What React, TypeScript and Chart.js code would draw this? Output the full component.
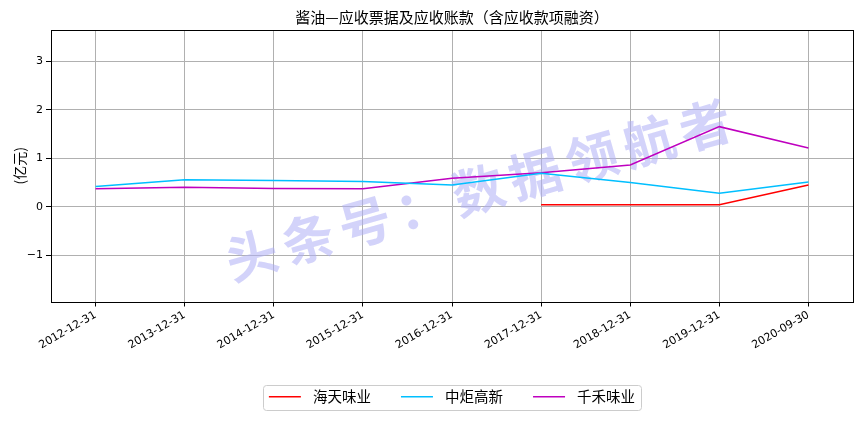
import React, { useEffect, useRef } from "react";
import { Chart, registerables } from "chart.js";

Chart.register(...registerables);

const TITLE = "酱油—应收票据及应收账款（含应收款项融资）";
const Y_LABEL = "(亿元)";
const WATERMARK = "头条号：数据领航者";
const CATEGORIES = [
  "2012-12-31",
  "2013-12-31",
  "2014-12-31",
  "2015-12-31",
  "2016-12-31",
  "2017-12-31",
  "2018-12-31",
  "2019-12-31",
  "2020-09-30",
];
const HAITIAN = [null, null, null, null, null, 0.04, 0.04, 0.04, 0.45];
const ZHONGJU = [0.42, 0.555, 0.54, 0.52, 0.45, 0.69, 0.5, 0.28, 0.51];
const QIANHE = [0.37, 0.4, 0.376, 0.37, 0.59, 0.7, 0.86, 1.65, 1.21];
const SERIES_NAMES = ["海天味业", "中炬高新", "千禾味业"];
const Y_MIN = -1.95;
const Y_MAX = 3.64;

const FONT = "'DejaVu Sans', 'Noto Sans CJK SC', sans-serif";
const CJK = "'Noto Sans CJK SC', 'DejaVu Sans', sans-serif";

const framePlugin = {
  id: "frame",
  afterLayout(chart: any) {
    const ca = chart.chartArea;
    const cx = (ca.left + ca.right) / 2;
    const t = chart.titleBlock;
    if (t) {
      const d = cx - (t.left + t.right) / 2;
      t.left += d;
      t.right += d;
    }
    const lg = chart.legend;
    if (lg) {
      const d = cx - (lg.left + lg.right) / 2;
      lg.left += d;
      lg.right += d;
      if (lg.legendHitBoxes) for (const h of lg.legendHitBoxes) h.left += d;
    }
  },
  beforeDatasetsDraw(chart: any) {
    const { ctx, chartArea } = chart;
    ctx.save();
    ctx.translate(
      chartArea.left + (chartArea.right - chartArea.left) * 0.537,
      chartArea.top + (chartArea.bottom - chartArea.top) * 0.585
    );
    ctx.rotate((-16 * Math.PI) / 180);
    ctx.font = `bold 52px ${CJK}`;
    (ctx as any).letterSpacing = "7px";
    ctx.fillStyle = "rgba(175,175,245,0.55)";
    ctx.textAlign = "center";
    ctx.textBaseline = "middle";
    ctx.fillText(WATERMARK, 0, 0);
    ctx.restore();
  },
  afterDraw(chart: any) {
    const { ctx, chartArea } = chart;
    ctx.save();
    ctx.strokeStyle = "#000";
    ctx.lineWidth = 1;
    ctx.strokeRect(
      Math.round(chartArea.left) + 0.5,
      Math.round(chartArea.top) + 0.5,
      Math.round(chartArea.right - chartArea.left),
      Math.round(chartArea.bottom - chartArea.top)
    );
    const lg = chart.legend;
    if (lg && lg.legendHitBoxes && lg.legendHitBoxes.length) {
      const boxes = lg.legendHitBoxes;
      let l = Infinity, r = -Infinity, t = Infinity, b = -Infinity;
      for (const h of boxes) {
        l = Math.min(l, h.left);
        r = Math.max(r, h.left + h.width);
        t = Math.min(t, h.top);
        b = Math.max(b, h.top + h.height);
      }
      l -= 6; r += 6; t -= 5; b += 5;
      ctx.strokeStyle = "#cccccc";
      ctx.beginPath();
      ctx.roundRect(Math.round(l) + 0.5, Math.round(t) + 0.5, Math.round(r - l), Math.round(b - t), 3);
      ctx.stroke();
    }
    ctx.restore();
  },
};

export default function App() {
  const ref = useRef<HTMLCanvasElement | null>(null);
  useEffect(() => {
    if (!ref.current) return;
    const chart = new Chart(ref.current, {
      type: "line",
      data: {
        labels: CATEGORIES,
        datasets: [
          { label: SERIES_NAMES[0], data: HAITIAN, borderColor: "#ff0000", backgroundColor: "#ff0000" },
          { label: SERIES_NAMES[1], data: ZHONGJU, borderColor: "#00bfff", backgroundColor: "#00bfff" },
          { label: SERIES_NAMES[2], data: QIANHE, borderColor: "#bf00bf", backgroundColor: "#bf00bf" },
        ],
      },
      options: {
        responsive: false,
        animation: false,
        layout: { padding: { top: 0, right: 11, bottom: 18, left: 0 } },
        elements: {
          line: { borderWidth: 1.5, tension: 0 },
          point: { radius: 0, hoverRadius: 0 },
        },
        plugins: {
          tooltip: { enabled: false },
          title: {
            display: true,
            text: TITLE,
            color: "#000",
            font: { family: CJK, size: 15, weight: "normal" },
            padding: { top: 8, bottom: 4 },
          },
          legend: {
            position: "bottom",
            labels: {
              color: "#000",
              font: { family: CJK, size: 14.5 },
              boxWidth: 32,
              boxHeight: 0,
              padding: 30,
              generateLabels(chart: any) {
                return chart.data.datasets.map((ds: any, i: number) => ({
                  text: "\u2004" + ds.label,
                  fillStyle: ds.borderColor,
                  strokeStyle: ds.borderColor,
                  lineWidth: 1.5,
                  fontColor: "#000",
                  hidden: false,
                  datasetIndex: i,
                }));
              },
            },
          },
        },
        scales: {
          x: {
            type: "category",
            offset: true,
            grid: { color: "#b0b0b0", tickColor: "#000", tickLength: 5, offset: false },
            border: { display: false },
            ticks: {
              color: "#000",
              font: { family: FONT, size: 11 },
              maxRotation: 30,
              minRotation: 30,
              autoSkip: false,
              padding: 2,
            },
            afterFit(scale: any) {
              scale.height = 58;
            },
          },
          y: {
            min: Y_MIN,
            max: Y_MAX,
            grid: { color: "#b0b0b0", tickColor: "#000", tickLength: 5 },
            border: { display: false },
            ticks: {
              stepSize: 1,
              includeBounds: false,
              color: "#000",
              font: { family: FONT, size: 11 },
              padding: 3,
              callback: (v: any) => (Number(v) < 0 ? "\u2212" + Math.abs(Number(v)) : String(v)),
            },
            title: {
              display: true,
              text: Y_LABEL,
              color: "#000",
              font: { family: CJK, size: 14 },
              padding: { top: 11, bottom: 0 },
            },
            afterFit(scale: any) {
              scale.width = 51;
            },
          },
        },
      },
      plugins: [framePlugin],
    });
    return () => chart.destroy();
  }, []);
  return (
    <div style={{ position: "absolute", left: 0, top: 0, width: 864, height: 432, background: "#fff" }}>
      <canvas ref={ref} width={864} height={432} />
    </div>
  );
}
